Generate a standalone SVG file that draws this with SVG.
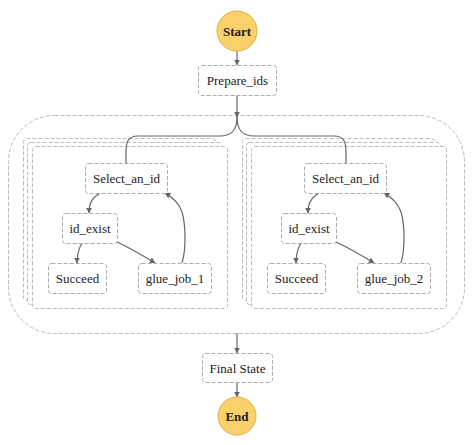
<svg xmlns="http://www.w3.org/2000/svg" width="474" height="445" viewBox="0 0 474 445">
<defs>
<marker id="ah" viewBox="0 0 10 10" refX="9" refY="5" markerWidth="6" markerHeight="6" orient="auto" markerUnits="userSpaceOnUse">
<path d="M0,0 L10,5 L0,10 z" fill="#666"/>
</marker>
</defs>
<style>
.box{fill:#fff;stroke:#aaa;stroke-width:1;stroke-dasharray:4 2}
.grp{fill:#fff;stroke:#bbb;stroke-width:1;stroke-dasharray:4 2}
.circ{fill:#f9d06a;stroke:#d9b04a;stroke-width:1}
.t{font-family:"Liberation Serif","Times New Roman",serif;font-size:13px;fill:#222;text-anchor:middle;dominant-baseline:central}
.b{font-weight:bold}
.e{fill:none;stroke:#666;stroke-width:1.2;marker-end:url(#ah)}
.l{fill:none;stroke:#666;stroke-width:1.2}
</style>
<g id="parallel">
<rect class="grp" x="8.5" y="115.5" width="456" height="218" rx="46" ry="46"/>
</g>
<g id="map1">
<rect class="grp" x="23.5" y="138.5" width="192" height="162" rx="3"/>
<rect class="grp" x="27.5" y="142.5" width="194" height="162" rx="3"/>
<rect class="grp" x="32.5" y="146.5" width="195" height="162" rx="3"/>
</g>
<g id="map2">
<rect class="grp" x="242.5" y="138.5" width="192" height="162" rx="3"/>
<rect class="grp" x="246.5" y="142.5" width="194" height="162" rx="3"/>
<rect class="grp" x="251.5" y="146.5" width="195" height="162" rx="3"/>
</g>
<g id="connectors">
<path class="e" d="M237,51 L237,65"/>
<path class="e" d="M237,95 L237,117"/>
<path class="l" d="M237,117 C237,130 232,136 220,136 L138,136 C128,136 126,142 126,152 L126,163"/>
<path class="l" d="M237,117 C237,130 242,136 254,136 L334,136 C344,136 346,142 346,152 L346,163"/>
<path class="e" d="M100,193 C92,198 89,203 89,213"/>
<path class="e" d="M82,243 C79,248 77,254 77,263"/>
<path class="e" d="M117,242 C130,248 142,255 155,263"/>
<path class="e" d="M182,263 C186,250 186,225 182,212 C179,203 172,197 165,193"/>
<path class="e" d="M319,193 C311,198 308,203 308,213"/>
<path class="e" d="M301,243 C298,248 296,254 296,263"/>
<path class="e" d="M336,242 C349,248 361,255 374,263"/>
<path class="e" d="M401,263 C405,250 405,225 401,212 C398,203 391,197 384,193"/>
<path class="e" d="M237,333 L237,353"/>
<path class="e" d="M237,382 L237,397"/>
</g>
<g id="start">
<circle class="circ" cx="237" cy="31" r="20"/>
<text class="t b" x="237" y="31">Start</text>
</g>
<g id="prepare_ids">
<rect class="box" x="198.5" y="65.5" width="78" height="30" rx="3"/>
<text class="t" x="237.5" y="80.5">Prepare_ids</text>
</g>
<g id="select_an_id_1">
<rect class="box" x="85.5" y="163.5" width="82" height="30" rx="3"/>
<text class="t" x="126.5" y="178.5">Select_an_id</text>
</g>
<g id="id_exist_1">
<rect class="box" x="62.5" y="213.5" width="55" height="30" rx="3"/>
<text class="t" x="90" y="228.5">id_exist</text>
</g>
<g id="succeed_1">
<rect class="box" x="48.5" y="263.5" width="58" height="30" rx="3"/>
<text class="t" x="77.5" y="278.5">Succeed</text>
</g>
<g id="glue_job_1">
<rect class="box" x="138.5" y="263.5" width="73" height="30" rx="3"/>
<text class="t" x="175" y="278.5">glue_job_1</text>
</g>
<g id="select_an_id_2">
<rect class="box" x="304.5" y="163.5" width="82" height="30" rx="3"/>
<text class="t" x="345.5" y="178.5">Select_an_id</text>
</g>
<g id="id_exist_2">
<rect class="box" x="281.5" y="213.5" width="55" height="30" rx="3"/>
<text class="t" x="309" y="228.5">id_exist</text>
</g>
<g id="succeed_2">
<rect class="box" x="267.5" y="263.5" width="58" height="30" rx="3"/>
<text class="t" x="296.5" y="278.5">Succeed</text>
</g>
<g id="glue_job_2">
<rect class="box" x="357.5" y="263.5" width="73" height="30" rx="3"/>
<text class="t" x="394" y="278.5">glue_job_2</text>
</g>
<g id="final_state">
<rect class="box" x="202.5" y="353.5" width="70" height="29" rx="3"/>
<text class="t" x="237.5" y="368">Final State</text>
</g>
<g id="end">
<circle class="circ" cx="237" cy="416" r="19"/>
<text class="t b" x="237" y="416">End</text>
</g>
</svg>
